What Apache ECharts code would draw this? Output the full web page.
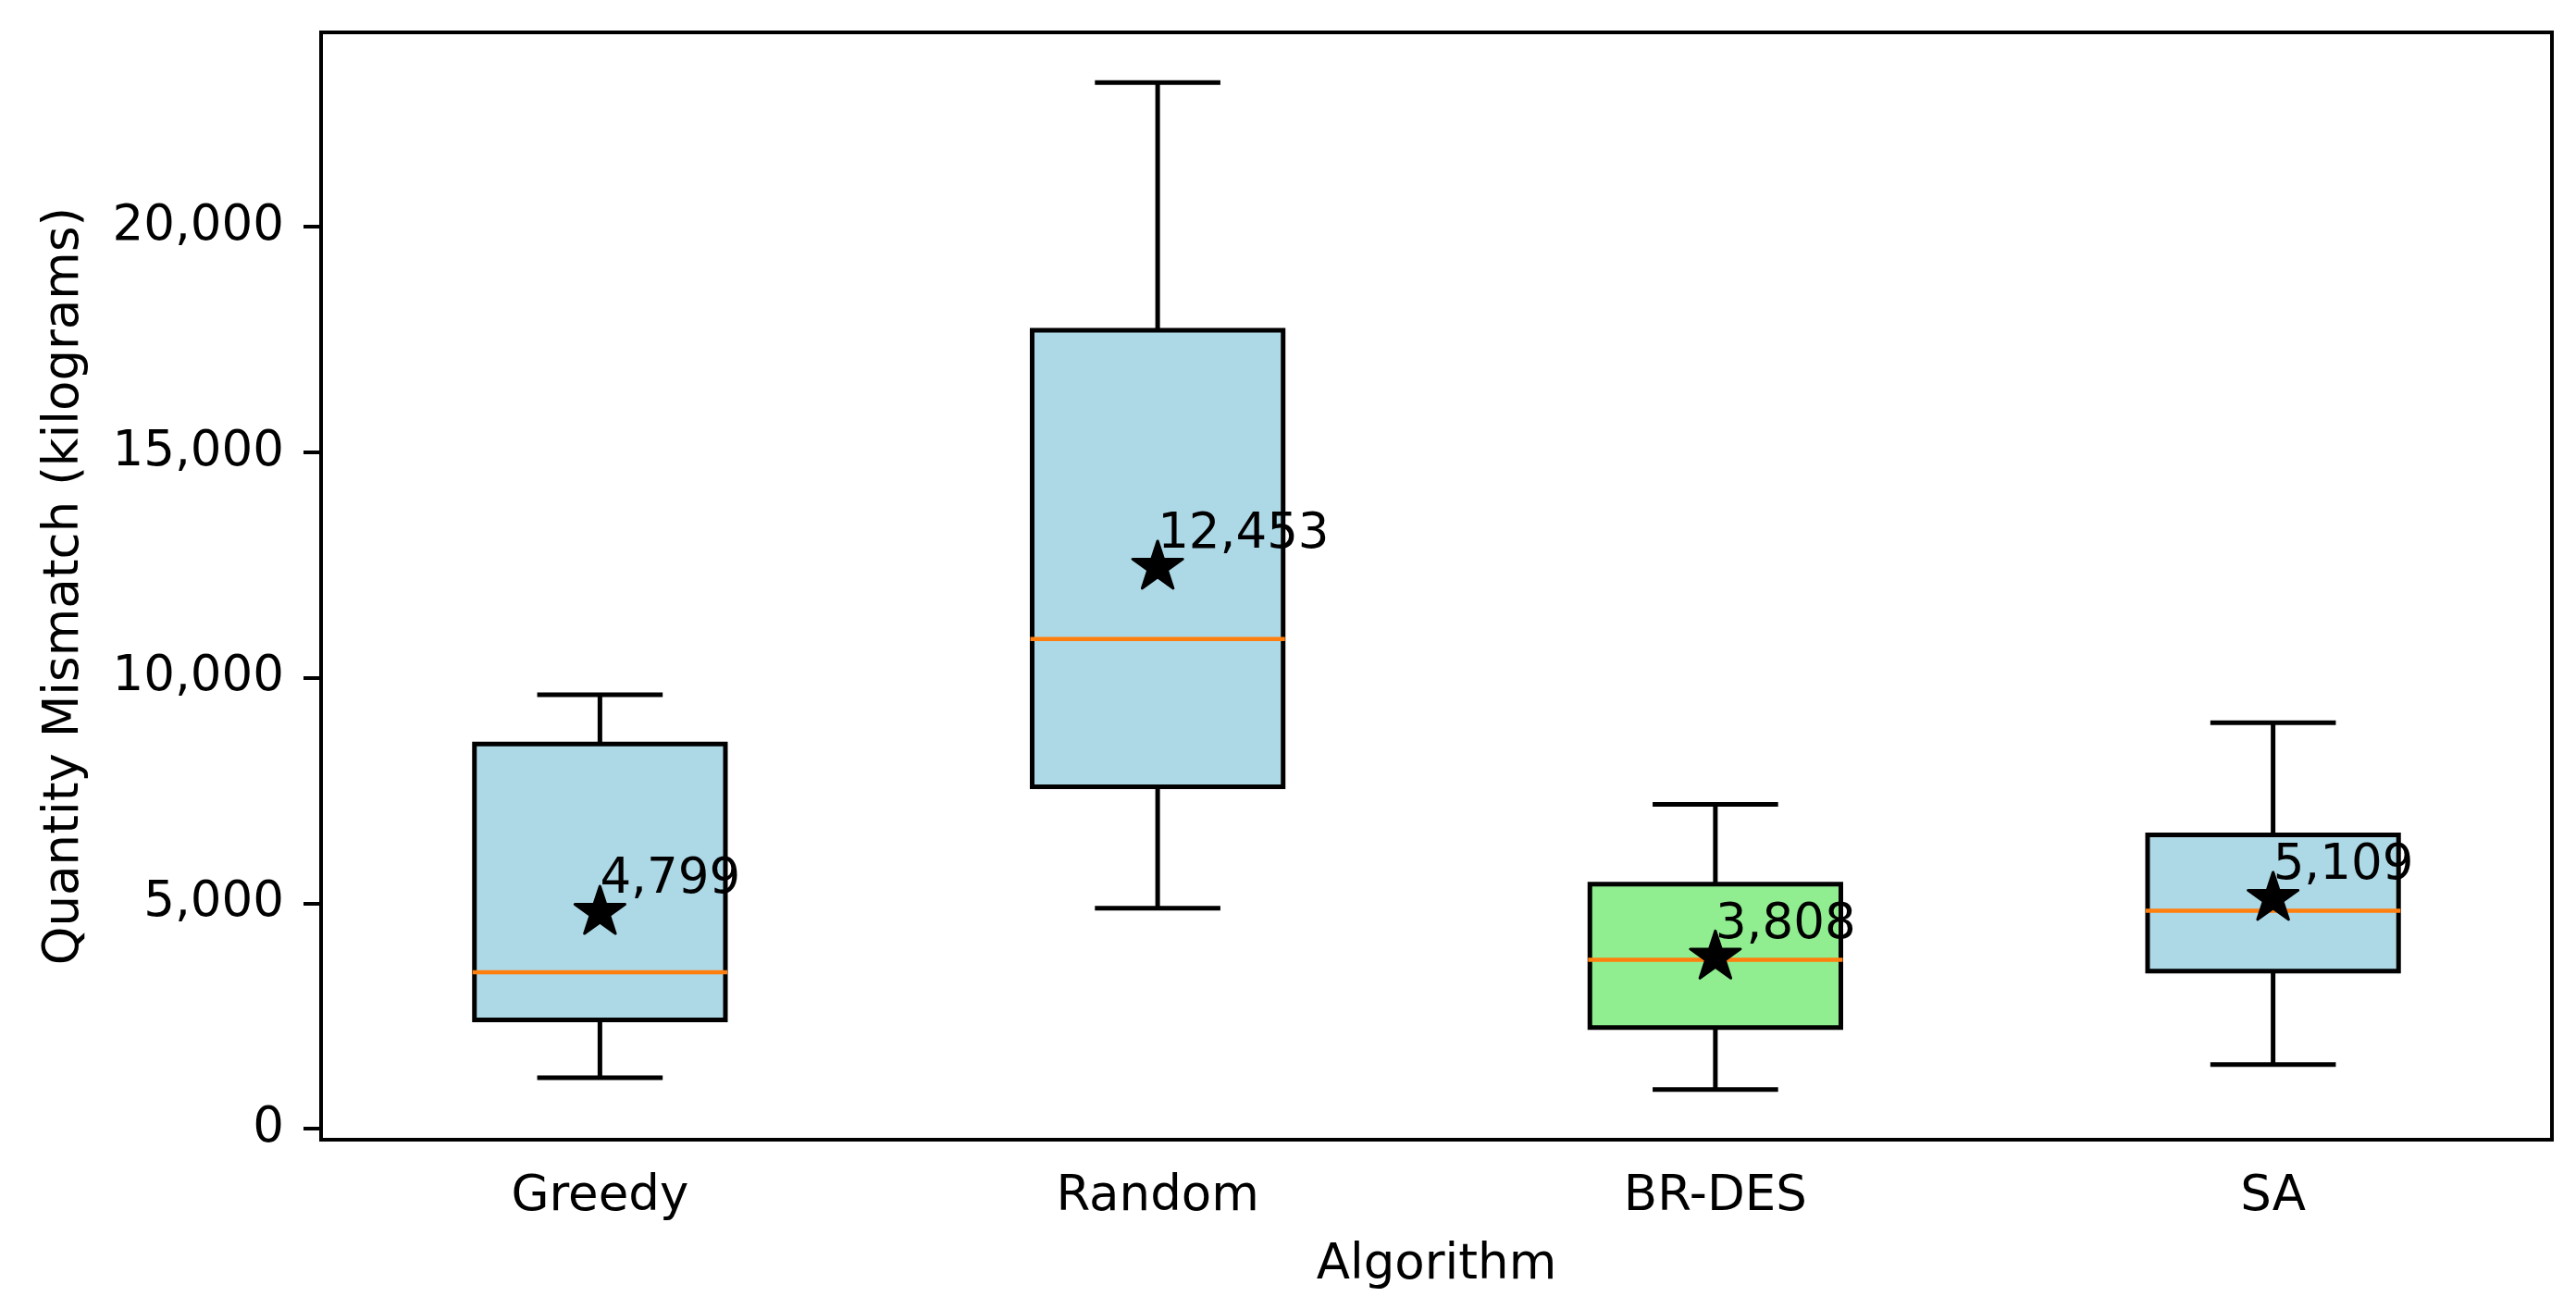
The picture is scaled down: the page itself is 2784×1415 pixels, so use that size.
<!DOCTYPE html>
<html>
<head>
<meta charset="utf-8">
<script src="https://cdn.jsdelivr.net/npm/echarts@6/dist/echarts.min.js"></script>
<style>
html,body{margin:0;padding:0;background:#fff;}
#chart{width:2784px;height:1415px;}
</style>
</head>
<body>
<div id="chart"></div>
<script>
// ---- data ----
const categories = ['Greedy', 'Random', 'BR-DES', 'SA'];
const whiskerLow  = [1128, 4885,  868, 1422];
const q1          = [2408, 7580, 2240, 3490];
const median      = [3466, 10858, 3745, 4830];
const q3          = [8527, 17705, 5420, 6515];
const whiskerHigh = [9620, 23195, 7190, 9000];
const means       = [4799, 12453, 3808, 5109];
const yTicks      = [0, 5000, 10000, 15000, 20000];

// ---- styles ----
const boxFill = ['#ADD8E6', '#ADD8E6', '#90EE90', '#ADD8E6'];
const FONT = 'DejaVu Sans';
const FS = 53;
const fmt = v => Number(v).toLocaleString('en-US');
const starPath = 'path://M0,-1L0.2245,-0.309L0.9511,-0.309L0.3633,0.118L0.5878,0.809L0,0.382L-0.5878,0.809L-0.3633,0.118L-0.9511,-0.309L-0.2245,-0.309Z';

const boxData = categories.map((c, i) => [i, whiskerLow[i], q1[i], median[i], q3[i], whiskerHigh[i]]);
const meanData = categories.map((c, i) => [i, means[i]]);

const chart = echarts.init(document.getElementById('chart'), null, {renderer: 'canvas'});

const option = {
  backgroundColor: '#fff',
  animation: false,
  grid: {
    left: 347, right: 26, top: 35, bottom: 183,
    show: true, borderColor: '#000', borderWidth: 4, backgroundColor: 'transparent'
  },
  xAxis: {
    type: 'category',
    data: categories,
    boundaryGap: true,
    name: 'Algorithm',
    nameLocation: 'middle',
    nameGap: 110,
    nameTextStyle: {fontFamily: FONT, fontSize: FS, color: '#000'},
    axisLine: {onZero: false, lineStyle: {color: '#000', width: 4}},
    axisTick: {alignWithLabel: true, length: 18, lineStyle: {color: '#000', width: 4}},
    axisLabel: {fontFamily: FONT, fontSize: FS, color: '#000', margin: 36},
    splitLine: {show: false}
  },
  yAxis: {
    type: 'value',
    min: -246,
    max: 24308,
    name: 'Quantity Mismatch (kilograms)',
    nameLocation: 'middle',
    nameGap: 250,
    nameTextStyle: {fontFamily: FONT, fontSize: FS, color: '#000'},
    axisLine: {show: true, onZero: false, lineStyle: {color: '#000', width: 4}},
    axisTick: {show: true, length: 19, customValues: yTicks, lineStyle: {color: '#000', width: 4}},
    axisLabel: {fontFamily: FONT, fontSize: FS, color: '#000', margin: 40, customValues: yTicks, formatter: v => fmt(v)},
    splitLine: {show: false}
  },
  series: [
    {
      type: 'custom',
      name: 'boxes',
      z: 2,
      data: boxData,
      encode: {x: 0, y: [1, 2, 3, 4, 5]},
      renderItem: function (params, api) {
        const i = api.value(0);
        const x = api.coord([i, api.value(3)])[0];
        const yLo = api.coord([i, api.value(1)])[1];
        const yQ1 = api.coord([i, api.value(2)])[1];
        const yMed = api.coord([i, api.value(3)])[1];
        const yQ3 = api.coord([i, api.value(4)])[1];
        const yHi = api.coord([i, api.value(5)])[1];
        const unit = api.size([1, 0])[0];
        const bw = unit * 0.45;
        const cw = unit * 0.225;
        const lineStyle = {stroke: '#000', lineWidth: 5, fill: null};
        return {
          type: 'group',
          children: [
            {type: 'line', shape: {x1: x, y1: yQ1, x2: x, y2: yLo}, style: lineStyle},
            {type: 'line', shape: {x1: x, y1: yQ3, x2: x, y2: yHi}, style: lineStyle},
            {type: 'line', shape: {x1: x - cw / 2, y1: yLo, x2: x + cw / 2, y2: yLo}, style: lineStyle},
            {type: 'line', shape: {x1: x - cw / 2, y1: yHi, x2: x + cw / 2, y2: yHi}, style: lineStyle},
            {type: 'rect', shape: {x: x - bw / 2, y: yQ3, width: bw, height: yQ1 - yQ3},
              style: {fill: boxFill[i], stroke: '#000', lineWidth: 5}},
            {type: 'line', shape: {x1: x - bw / 2 - 2, y1: yMed, x2: x + bw / 2 + 2, y2: yMed},
              style: {stroke: '#ff7f0e', lineWidth: 4.5, fill: null}}
          ]
        };
      }
    },
    {
      type: 'scatter',
      name: 'mean',
      z: 4,
      data: meanData,
      symbol: starPath,
      symbolSize: [54, 51],
      symbolOffset: [0, -2.5],
      itemStyle: {color: '#000', borderColor: '#000', borderWidth: 3, borderJoin: 'round', opacity: 1}
    },
    {
      type: 'custom',
      name: 'meanLabels',
      z: 5,
      data: meanData,
      encode: {x: 0, y: 1},
      renderItem: function (params, api) {
        const c = api.coord([api.value(0), api.value(1)]);
        return {
          type: 'text',
          x: c[0],
          y: c[1] - 8,
          style: {
            text: fmt(api.value(1)),
            fontFamily: FONT,
            fontSize: FS,
            fill: '#000',
            align: 'left',
            verticalAlign: 'bottom'
          }
        };
      }
    }
  ]
};
chart.setOption(option);
</script>
</body>
</html>
